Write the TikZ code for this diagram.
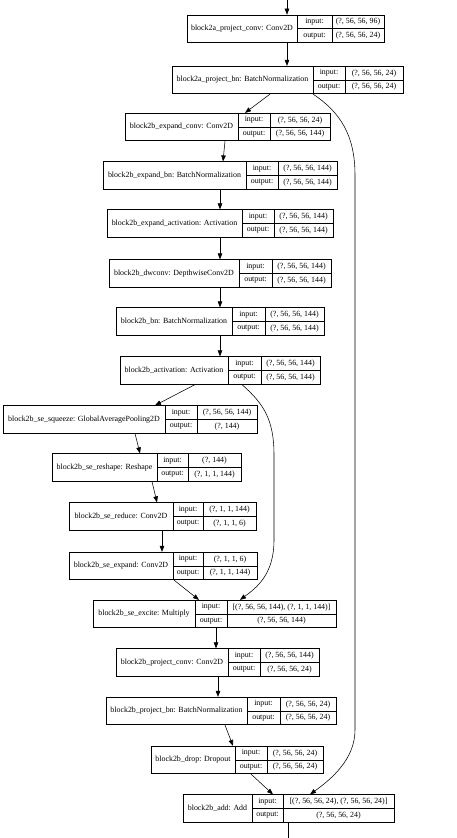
\documentclass[tikz,border=0pt]{standalone}
\usepackage{fontspec}
\setmainfont{Liberation Serif}
\usetikzlibrary{arrows.meta}
\tikzset{
  box/.style={draw, line width=0.7pt, inner sep=0pt, minimum height=27.5pt, anchor=west},
  cell/.style={line width=0.7pt},
  txt/.style={inner sep=0pt, font=\fontsize{7.9}{9}\selectfont},
  arr/.style={line width=0.55pt, -{Triangle[length=6pt,width=4.5pt]}},
  skip/.style={line width=0.55pt, -{Triangle[length=6pt,width=4.5pt]}}
}
\newcommand\rec[9]{%
  \node[box, minimum width={(#4-#2)*1pt}] (#1) at (#2,#3) {};
  \draw[cell] (#5,{#3-13.75}) -- (#5,{#3+13.75});
  \draw[cell] (#6,{#3-13.75}) -- (#6,{#3+13.75});
  \draw[cell] (#5,#3) -- (#4,#3);
  \node[txt] (#1-name) at ({(#2+#5)/2},#3) {#7};
  \node[txt] (#1-inl) at ({(#5+#6)/2},{#3-6.9}) {input:};
  \node[txt] (#1-outl) at ({(#5+#6)/2},{#3+6.9}) {output:};
  \node[txt] (#1-in) at ({(#6+#4)/2},{#3-6.9}) {#8};
  \node[txt] (#1-out) at ({(#6+#4)/2},{#3+6.9}) {#9};
}
\begin{document}
\begin{tikzpicture}[x=1pt,y=-1pt]
\useasboundingbox (0,0) rectangle (456,838);
\rec{b1}{187}{28.8}{384}{297}{332}{block2a\_project\_conv: Conv2D}{(?, 56, 56, 96)}{(?, 56, 56, 24)}
\rec{b2}{172}{80}{403}{313}{345}{block2a\_project\_bn: BatchNormalization}{(?, 56, 56, 24)}{(?, 56, 56, 24)}
\rec{b3}{125}{127}{330}{238}{270}{block2b\_expand\_conv: Conv2D}{(?, 56, 56, 24)}{(?, 56, 56, 144)}
\rec{b4}{103}{175.5}{337}{246}{278}{block2b\_expand\_bn: BatchNormalization}{(?, 56, 56, 144)}{(?, 56, 56, 144)}
\rec{b5}{107}{223.5}{333}{242}{274}{block2b\_expand\_activation: Activation}{(?, 56, 56, 144)}{(?, 56, 56, 144)}
\rec{b6}{109}{273.5}{331}{239}{272}{block2b\_dwconv: DepthwiseConv2D}{(?, 56, 56, 144)}{(?, 56, 56, 144)}
\rec{b7}{116}{321.5}{324}{232}{265}{block2b\_bn: BatchNormalization}{(?, 56, 56, 144)}{(?, 56, 56, 144)}
\rec{b8}{120}{370.5}{320}{228}{261}{block2b\_activation: Activation}{(?, 56, 56, 144)}{(?, 56, 56, 144)}
\rec{b9}{3}{419.5}{257}{165}{197}{block2b\_se\_squeeze: GlobalAveragePooling2D}{(?, 56, 56, 144)}{(?, 144)}
\rec{b10}{52}{467.5}{241}{157}{188}{block2b\_se\_reshape: Reshape}{(?, 144)}{(?, 1, 1, 144)}
\rec{b11}{69}{516.5}{256}{173}{203}{block2b\_se\_reduce: Conv2D}{(?, 1, 1, 144)}{(?, 1, 1, 6)}
\rec{b12}{69}{566}{257}{173}{203}{block2b\_se\_expand: Conv2D}{(?, 1, 1, 6)}{(?, 1, 1, 144)}
\rec{b13}{93}{614}{336}{195}{227}{block2b\_se\_excite: Multiply}{[(?, 56, 56, 144), (?, 1, 1, 144)]}{(?, 56, 56, 144)}
\rec{b14}{116}{662.5}{319}{228}{260}{block2b\_project\_conv: Conv2D}{(?, 56, 56, 144)}{(?, 56, 56, 24)}
\rec{b15}{106}{711}{336}{247}{280}{block2b\_project\_bn: BatchNormalization}{(?, 56, 56, 24)}{(?, 56, 56, 24)}
\rec{b16}{151}{760}{323}{235}{267}{block2b\_drop: Dropout}{(?, 56, 56, 24)}{(?, 56, 56, 24)}
\rec{b17}{183}{808.5}{394}{252}{283}{block2b\_add: Add}{[(?, 56, 56, 24), (?, 56, 56, 24)]}{(?, 56, 56, 24)}
\coordinate (top) at (287,0);
\coordinate (bot) at (288,838);
% edges
\draw[arr] (top) -- (b1.north -| top);
\draw[arr] ([xshift=100]b1.south west) -- ([xshift=115]b2.north west);
\draw[arr] ([xshift=98]b2.south west) -- ([xshift=120]b3.north west);
\draw[skip] ([xshift=141]b2.south west) .. controls (340,112) and (355,135) .. (355,175) -- (355,730) .. controls (355,760) and (330,780) .. ([xshift=127]b17.north west);
\draw[arr] ([xshift=100]b3.south west) -- ([xshift=120]b4.north west);
\draw[arr] ([xshift=117]b4.south west) -- ([xshift=113]b5.north west);
\draw[arr] ([xshift=113]b5.south west) -- ([xshift=111]b6.north west);
\draw[arr] ([xshift=111]b6.south west) -- ([xshift=104]b7.north west);
\draw[arr] ([xshift=104]b7.south west) -- ([xshift=100]b8.north west);
\draw[arr] ([xshift=75]b8.south west) -- ([xshift=152]b9.north west);
\draw[arr] ([xshift=122]b8.south west) .. controls (264,404) and (274,420) .. (274,455) -- (274,540) .. controls (274,575) and (256,588) .. ([xshift=147]b13.north west);
\draw[arr] ([xshift=132]b9.south west) -- ([xshift=88]b10.north west);
\draw[arr] ([xshift=100]b10.south west) -- ([xshift=88]b11.north west);
\draw[arr] ([xshift=93]b11.south west) -- ([xshift=93]b12.north west);
\draw[arr] ([xshift=105]b12.south west) -- ([xshift=106]b13.north west);
\draw[arr] ([xshift=123]b13.south west) -- ([xshift=100]b14.north west);
\draw[arr] ([xshift=102]b14.south west) -- ([xshift=112]b15.north west);
\draw[arr] ([xshift=119]b15.south west) -- ([xshift=82]b16.north west);
\draw[arr] ([xshift=100]b16.south west) -- ([xshift=90]b17.north west);
\draw[line width=0.55pt] ([xshift=105]b17.south west) -- (bot);
\end{tikzpicture}
\end{document}
